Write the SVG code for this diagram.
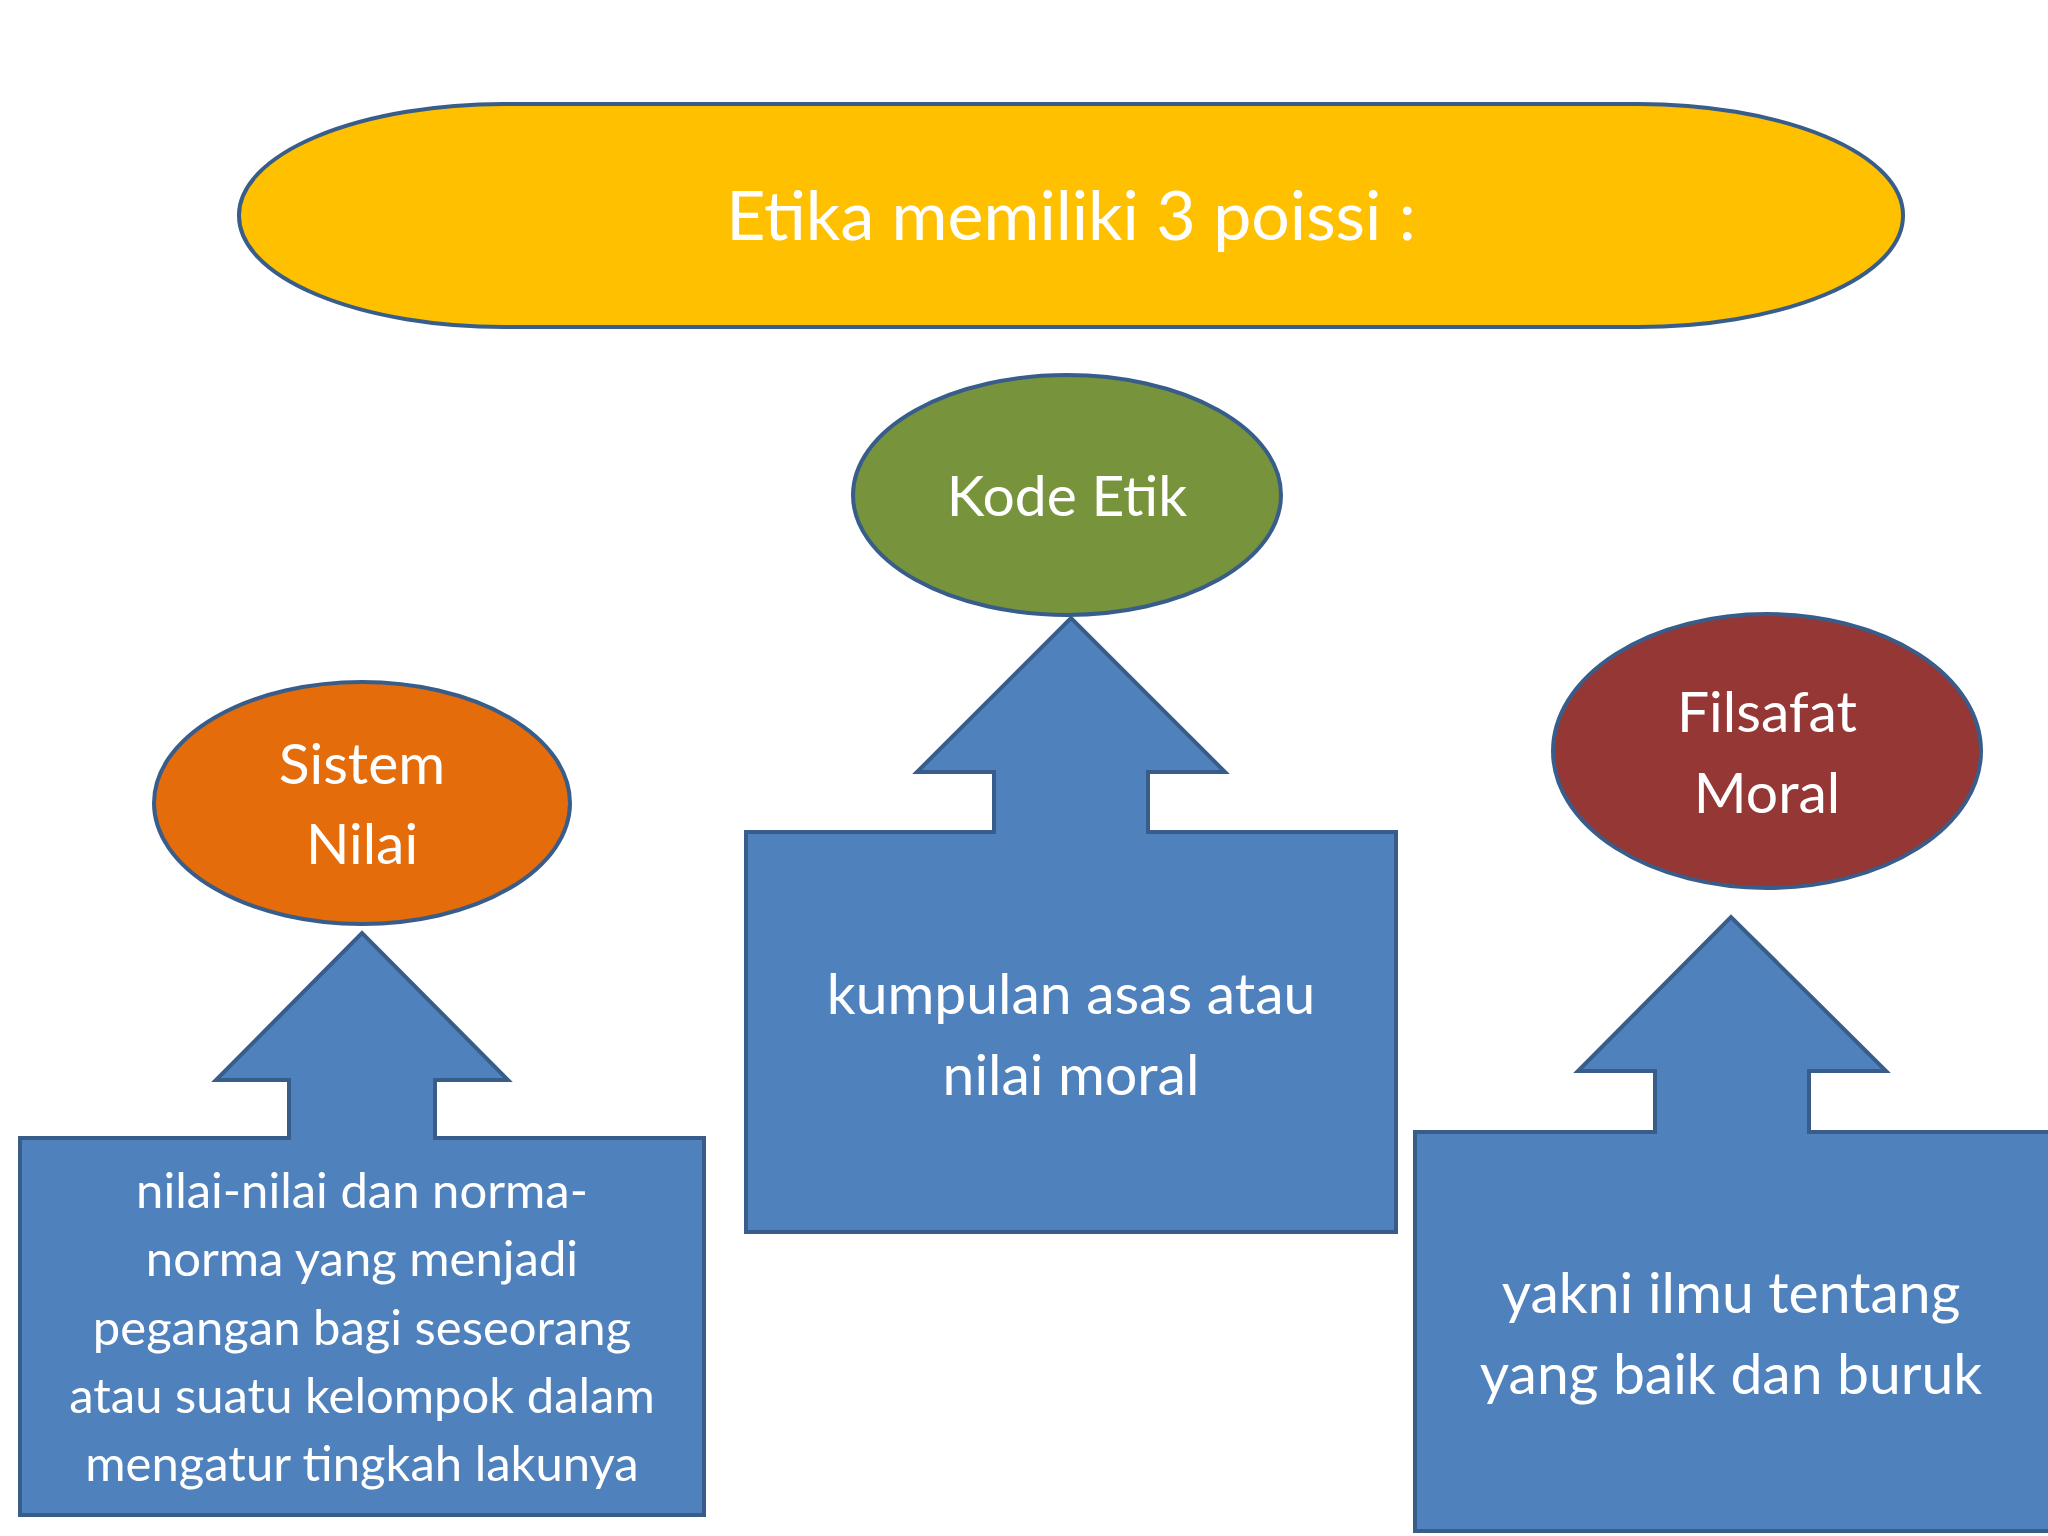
<svg xmlns="http://www.w3.org/2000/svg" width="2048" height="1536" viewBox="0 0 2048 1536">
<style>
.t{font-family:Lato,"Liberation Sans",sans-serif;fill:#fff;text-anchor:middle}
.sh{stroke:#385D8A;stroke-width:4}
.box{fill:#4F81BD}
</style>
<rect width="2048" height="1536" fill="#fff"/>
<g id="title"><rect class="sh" x="239" y="104" width="1664" height="223" rx="265" ry="111" fill="#FFC000"/>
<text class="t" x="1071" y="240" font-size="68">Etika memiliki 3 poissi :</text></g>
<g id="kode"><ellipse class="sh" cx="1067" cy="495" rx="214" ry="120" fill="#77933C"/>
<text class="t" x="1067" y="516" font-size="57">Kode Etik</text></g>
<g id="sistem"><ellipse class="sh" cx="362" cy="803" rx="208" ry="121" fill="#E46C0A"/>
<text class="t" x="362" y="784" font-size="57">Sistem</text><text class="t" x="362" y="864" font-size="57">Nilai</text></g>
<g id="filsafat"><ellipse class="sh" cx="1767" cy="751" rx="214" ry="137" fill="#953735"/>
<text class="t" x="1767" y="732" font-size="57">Filsafat</text><text class="t" x="1767" y="813" font-size="57">Moral</text></g>
<g id="connectors">
<path class="sh box" d="M20,1138 H289 V1080 H216 L362,933 L508,1080 H435 V1138 H704 V1515 H20 Z"/>
<path class="sh box" d="M746,832 H994 V772 H917 L1071,618 L1225,772 H1148 V832 H1396 V1232 H746 Z"/>
<path class="sh box" d="M1415,1132 H1655 V1071 H1578 L1731,917 L1886,1071 H1809 V1132 H2050 V1531 H1415 Z"/>
</g>
<g id="box-left">
<text class="t" x="362" y="1208" font-size="49">nilai-nilai dan norma-</text>
<text class="t" x="362" y="1276" font-size="49">norma yang menjadi</text>
<text class="t" x="362" y="1345" font-size="49">pegangan bagi seseorang</text>
<text class="t" x="362" y="1413" font-size="49">atau suatu kelompok dalam</text>
<text class="t" x="362" y="1481" font-size="49">mengatur tingkah lakunya</text></g>
<g id="box-mid">
<text class="t" x="1071" y="1014" font-size="57">kumpulan asas atau</text>
<text class="t" x="1071" y="1095" font-size="57">nilai moral</text></g>
<g id="box-right">
<text class="t" x="1731" y="1313" font-size="57">yakni ilmu tentang</text>
<text class="t" x="1731" y="1394" font-size="57">yang baik dan buruk</text></g>
</svg>
